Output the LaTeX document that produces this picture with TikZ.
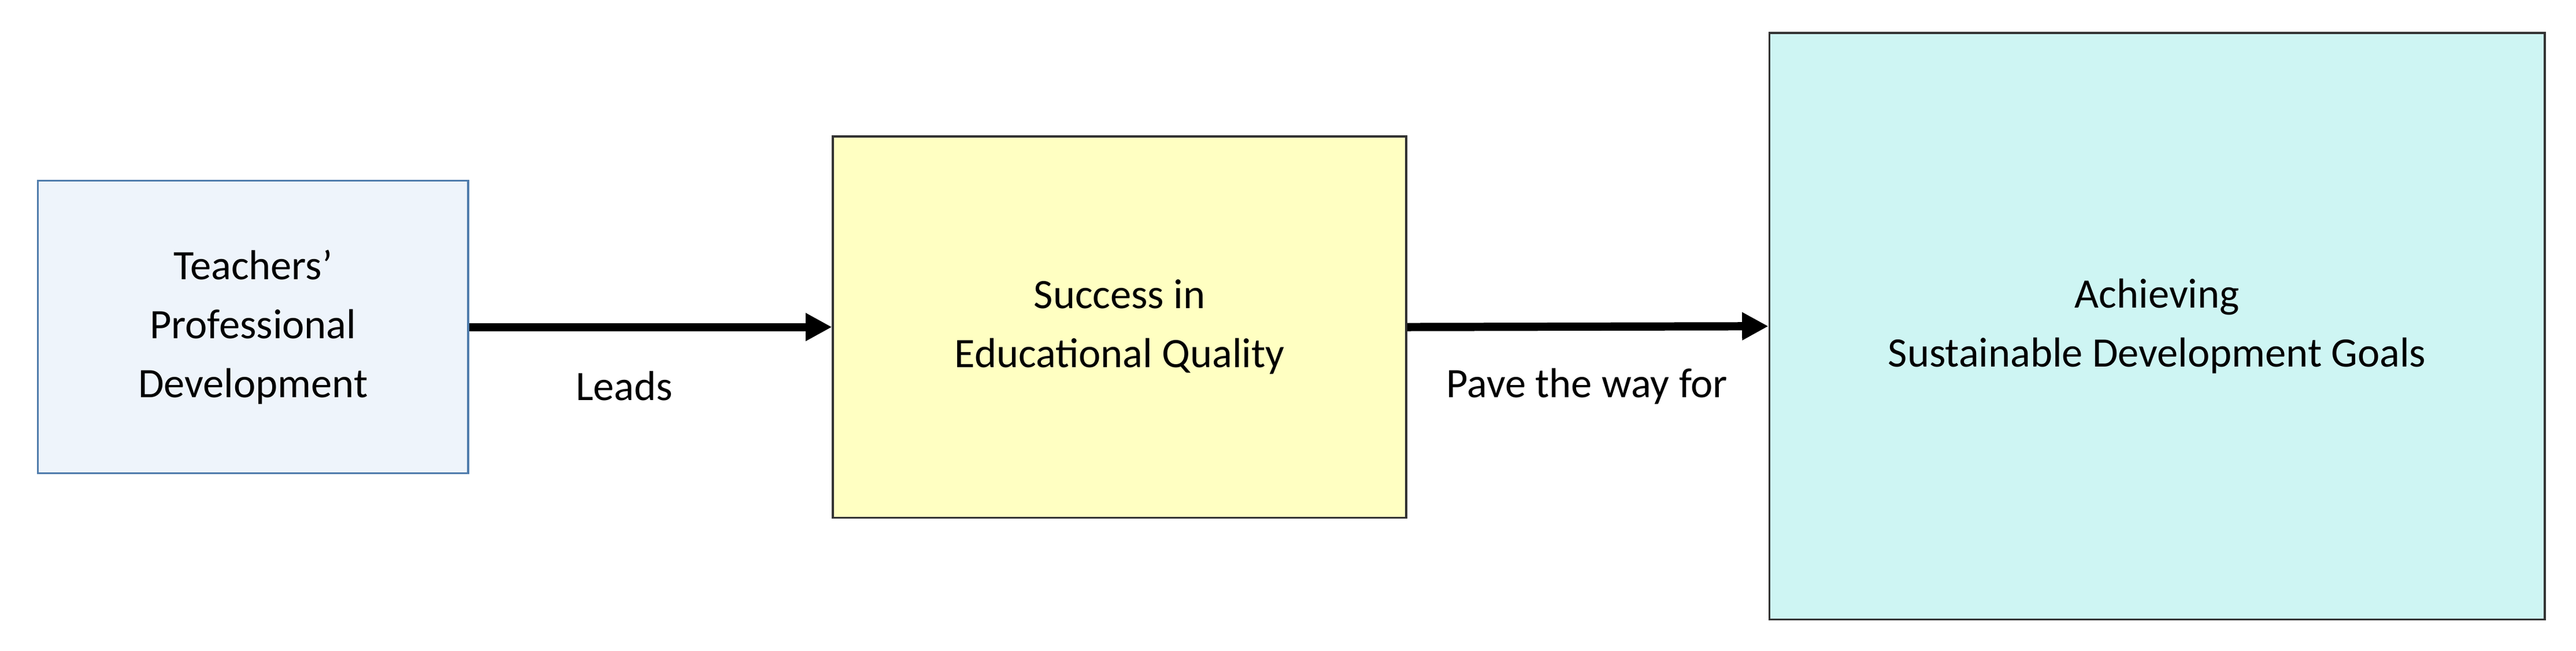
\documentclass[tikz,border=0pt]{standalone}
\usepackage{fontspec}
\setmainfont{Carlito}
\usetikzlibrary{arrows.meta}
\definecolor{bAfill}{HTML}{EEF4FB}
\definecolor{bAdraw}{HTML}{4F7CAC}
\definecolor{bBfill}{HTML}{FFFFC2}
\definecolor{bCfill}{HTML}{CEF5F3}
\tikzset{box/.style={draw=black!80,line width=1.2pt,align=center,inner sep=0pt,font=\fontsize{25.5}{36}\selectfont},
conn/.style={line width=5pt,-{Triangle[length=16pt,width=16pt]}},
lbl/.style={font=\fontsize{25.5}{36}\selectfont}}
\begin{document}
\begin{tikzpicture}[x=1pt,y=-1pt]
\useasboundingbox (0,0) rectangle (1568,396);
\node[box,draw=bAdraw,fill=bAfill,minimum width=262pt,minimum height=178pt] (a) at (154,199) {Teachers’\\Professional\\Development};
\node[box,fill=bBfill,minimum width=349pt,minimum height=232pt] (b) at (681.5,199) {Success in\\Educational Quality};
\node[box,fill=bCfill,minimum width=472pt,minimum height=357pt] (c) at (1313,198.5) {Achieving\\Sustainable Development Goals};
\draw[conn] (a.east) -- (b.west);
\draw[conn] (b.east) -- (c.west);
\node[lbl] (l1) at (380,235) {Leads};
\node[lbl] (l2) at (966,235) {Pave the way for};
\end{tikzpicture}
\end{document}
